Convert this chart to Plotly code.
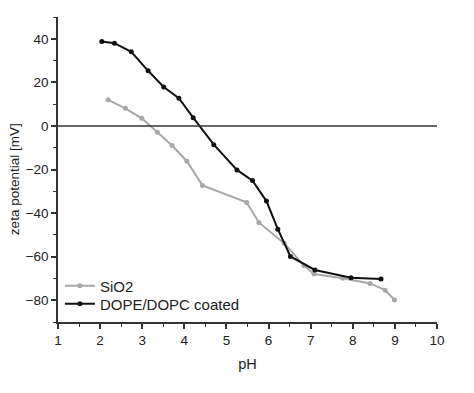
import plotly.graph_objects as go

sio2_ph = [2.19, 2.60, 2.99, 3.36, 3.71, 4.06, 4.43, 5.48, 5.77, 6.37, 6.84, 7.08, 7.76, 8.41, 8.77, 8.99]
sio2_zeta = [12.0, 8.1, 3.5, -2.9, -9.0, -16.2, -27.3, -35.1, -44.3, -53.8, -64.1, -68.0, -69.9, -72.3, -75.4, -79.9]

dope_ph = [2.04, 2.34, 2.74, 3.14, 3.51, 3.87, 4.21, 4.70, 5.25, 5.62, 5.95, 6.22, 6.52, 7.10, 7.96, 8.67]
dope_zeta = [38.8, 38.0, 34.0, 25.3, 17.9, 12.7, 3.8, -8.6, -20.2, -25.1, -34.5, -47.4, -59.9, -66.1, -69.7, -70.3]

FONT = "Liberation Sans, Arial"

fig = go.Figure()
fig.add_trace(go.Scatter(x=sio2_ph, y=sio2_zeta, mode="lines+markers", name="SiO2", legend="legend",
                         line=dict(color="#a8a8a8", width=2), marker=dict(size=5, color="#a8a8a8")))
fig.add_trace(go.Scatter(x=dope_ph, y=dope_zeta, mode="lines+markers", name="DOPE/DOPC coated", legend="legend2",
                         line=dict(color="#111111", width=2), marker=dict(size=5, color="#111111")))

fig.add_shape(type="line", xref="x", yref="y", x0=1, x1=10, y0=0, y1=0,
              line=dict(color="#333333", width=1.5))

axis_common = dict(showline=True, linecolor="#333333", linewidth=1.5, ticks="outside",
                   tickcolor="#333333", ticklen=5, tickwidth=1.5, showgrid=False, zeroline=False,
                   tickfont=dict(family=FONT, size=13.5, color="#222222"))

fig.update_xaxes(range=[1, 10], tick0=1, dtick=1,
                 minor=dict(dtick=0.5, ticks="outside", ticklen=3, tickcolor="#333333", tickwidth=1.2),
                 title=dict(text="pH", font=dict(family=FONT, size=14.5, color="#222222"), standoff=12),
                 **axis_common)
fig.update_yaxes(range=[-90, 50], tick0=0, dtick=20,
                 minor=dict(dtick=10, ticks="outside", ticklen=3, tickcolor="#333333", tickwidth=1.2),
                 **axis_common)

fig.add_annotation(text="zeta potential [mV]", textangle=-90, xref="paper", yref="paper",
                   x=-0.113, y=0.469, xanchor="center", yanchor="middle", showarrow=False,
                   font=dict(family=FONT, size=13.5, color="#222222"))

leg_common = dict(xanchor="left", yanchor="middle", bgcolor="rgba(0,0,0,0)",
                  font=dict(family=FONT, size=15, color="#222222"))
fig.update_layout(width=474, height=393, margin=dict(l=58, r=37, t=17, b=71),
                  plot_bgcolor="white", paper_bgcolor="white",
                  legend=dict(x=0.005, y=0.118, **leg_common),
                  legend2=dict(x=0.005, y=0.059, **leg_common),
                  showlegend=True)

fig.write_html("out.html")
